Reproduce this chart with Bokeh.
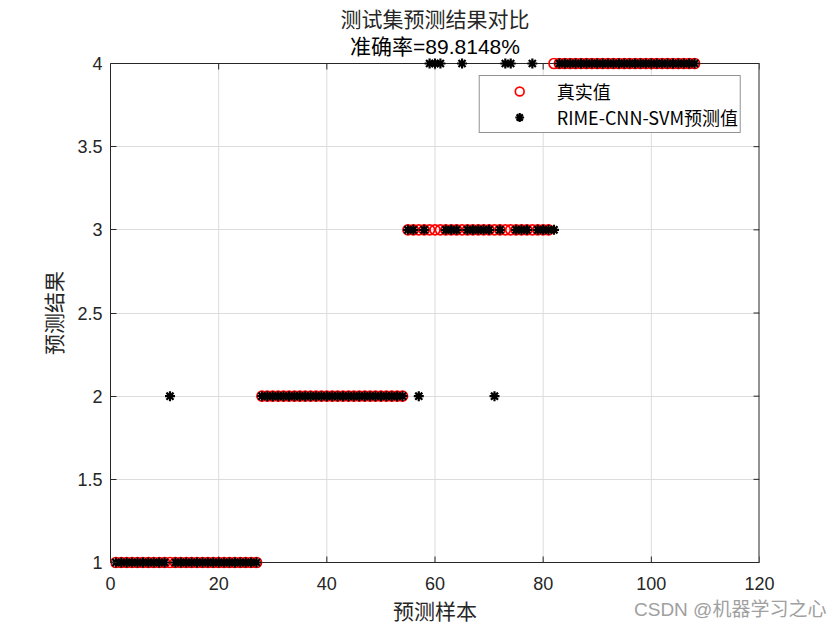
from bokeh.plotting import figure
from bokeh.layouts import column
from bokeh.models import (Range1d, Title, Legend, LegendItem, Div,
                          FixedTicker, ColumnDataSource)
from bokeh.embed import file_html
from bokeh.resources import INLINE

# ---------------- data ----------------
sample_idx = list(range(1, 109))
true_vals = [
    1, 1, 1, 1, 1, 1, 1, 1, 1, 1, 1, 1, 1, 1, 1, 1, 1, 1, 1, 1, 1, 1, 1, 1, 1, 1, 1,
    2, 2, 2, 2, 2, 2, 2, 2, 2, 2, 2, 2, 2, 2, 2, 2, 2, 2, 2, 2, 2, 2, 2, 2, 2, 2, 2,
    3, 3, 3, 3, 3, 3, 3, 3, 3, 3, 3, 3, 3, 3, 3, 3, 3, 3, 3, 3, 3, 3, 3, 3, 3, 3, 3,
    4, 4, 4, 4, 4, 4, 4, 4, 4, 4, 4, 4, 4, 4, 4, 4, 4, 4, 4, 4, 4, 4, 4, 4, 4, 4, 4,
]
pred_vals = [
    1, 1, 1, 1, 1, 1, 1, 1, 1, 1, 2, 1, 1, 1, 1, 1, 1, 1, 1, 1, 1, 1, 1, 1, 1, 1, 1,
    2, 2, 2, 2, 2, 2, 2, 2, 2, 2, 2, 2, 2, 2, 2, 2, 2, 2, 2, 2, 2, 2, 2, 2, 2, 2, 2,
    3, 3, 2, 3, 4, 4, 4, 3, 3, 3, 4, 3, 3, 3, 3, 3, 2, 3, 4, 4, 3, 3, 3, 4, 3, 3, 3,
    3, 4, 4, 4, 4, 4, 4, 4, 4, 4, 4, 4, 4, 4, 4, 4, 4, 4, 4, 4, 4, 4, 4, 4, 4, 4, 4,
]
x_min, x_max = 0, 120
y_min, y_max = 1, 4
x_ticks = [0, 20, 40, 60, 80, 100, 120]
y_ticks = [1, 1.5, 2, 2.5, 3, 3.5, 4]
title_line1 = "测试集预测结果对比"
title_line2 = "准确率=89.8148%"
x_label = "预测样本"
y_label = "预测结果"
legend_labels = ["真实值", "RIME-CNN-SVM预测值"]
watermark = "CSDN @机器学习之心"

NUM_FONT = "Liberation Sans, 'Noto Sans CJK SC'"
CJK_FONT = "'Noto Sans CJK SC'"
AX_COL = "#262626"

BOX_W = 649
BOX_H = 499
PAD = 6
pad_data = PAD * (y_max - y_min) / BOX_H

p = figure(output_backend="svg", toolbar_location=None,
           frame_width=BOX_W, frame_height=BOX_H + 2 * PAD,
           x_range=Range1d(x_min, x_max),
           y_range=Range1d(y_min - pad_data, y_max + pad_data),
           min_border_left=110, min_border_right=81,
           min_border_top=56, min_border_bottom=63)
p.background_fill_color = "white"
p.border_fill_color = "white"
p.outline_line_color = None

for ax in (p.xaxis[0], p.yaxis[0]):
    ax.minor_tick_line_color = None
    ax.axis_line_color = AX_COL
    ax.axis_line_width = 1
    ax.major_tick_line_color = AX_COL
    ax.major_label_text_color = AX_COL
    ax.major_label_text_font = NUM_FONT
    ax.major_label_text_font_size = "18px"
    ax.axis_label_text_font = CJK_FONT
    ax.axis_label_text_font_size = "21px"
    ax.axis_label_text_font_style = "normal"
    ax.axis_label_text_color = AX_COL

# x axis: labels only (box edge and ticks drawn at y=1 below)
p.xaxis.ticker = FixedTicker(ticks=x_ticks)
p.xaxis.axis_line_color = None
p.xaxis.major_tick_line_color = None
p.xaxis.major_tick_in = 0
p.xaxis.major_tick_out = 0
p.xaxis.major_label_standoff = 8
p.xaxis.axis_label = x_label
p.xaxis.axis_label_standoff = 2

p.yaxis.ticker = FixedTicker(ticks=y_ticks)
p.yaxis.bounds = (y_min, y_max)
p.yaxis.major_tick_in = 6
p.yaxis.major_tick_out = 0
p.yaxis.major_label_standoff = 8
p.yaxis.axis_label = y_label
p.yaxis.axis_label_standoff = 6

# grid
p.xgrid.visible = False
p.ygrid.ticker = FixedTicker(ticks=y_ticks)
p.ygrid.grid_line_color = "#dcdcdc"
p.ygrid.grid_line_width = 1
inner_x = [t for t in x_ticks if x_min < t < x_max]
p.segment(x0=inner_x, y0=[y_min] * len(inner_x), x1=inner_x, y1=[y_max] * len(inner_x),
          line_color="#dcdcdc", line_width=1, level="underlay")

# box edges (bottom, top, right) and inward tick marks
tick_len_y = 6 * (y_max - y_min) / BOX_H
tick_len_x = 6 * (x_max - x_min) / BOX_W
p.segment(x0=[x_min, x_min], y0=[y_min, y_max], x1=[x_max, x_max], y1=[y_min, y_max],
          line_color=AX_COL, line_width=1)
p.segment(x0=[x_max], y0=[y_min], x1=[x_max], y1=[y_max], line_color=AX_COL, line_width=2)
p.segment(x0=x_ticks, y0=[y_max] * len(x_ticks), x1=x_ticks,
          y1=[y_max - tick_len_y] * len(x_ticks), line_color=AX_COL, line_width=1)
p.segment(x0=x_ticks, y0=[y_min] * len(x_ticks), x1=x_ticks,
          y1=[y_min + tick_len_y] * len(x_ticks), line_color=AX_COL, line_width=1)
p.segment(x0=[x_max] * len(y_ticks), y0=y_ticks, x1=[x_max - tick_len_x] * len(y_ticks),
          y1=y_ticks, line_color=AX_COL, line_width=1)

p.add_layout(Title(text=title_line2, align="center", text_font=NUM_FONT,
                   text_font_size="21px", text_font_style="normal",
                   text_color="black", standoff=0), "above")
p.add_layout(Title(text=title_line1, align="center", text_font=CJK_FONT,
                   text_font_size="21px", text_font_style="normal",
                   text_color=AX_COL, standoff=0), "above")

src = ColumnDataSource(dict(x=sample_idx, t=true_vals, pr=pred_vals))
r_true = p.scatter("x", "t", source=src, marker="circle", size=10,
                   fill_color=None, line_color="#ff0000", line_width=1.7)
r_pred = p.scatter("x", "pr", source=src, marker="asterisk", size=10,
                   line_color="black", line_width=2.2)

legend = Legend(items=[LegendItem(label=legend_labels[0], renderers=[r_true]),
                       LegendItem(label=legend_labels[1], renderers=[r_pred])],
                location="top_right")
legend.label_text_font = CJK_FONT
legend.label_text_font_size = "18px"
legend.label_text_color = "black"
legend.border_line_color = AX_COL
legend.border_line_width = 1
legend.background_fill_color = "white"
legend.background_fill_alpha = 1
legend.padding = 2
legend.margin = 18
legend.spacing = 0
legend.glyph_width = 75
legend.glyph_height = 22
legend.label_height = 22
legend.label_standoff = 0
p.add_layout(legend, "center")

wm = Div(text=watermark, width=210, height=24, margin=(-33, 0, 0, 634),
         styles={"color": "#a0a0a0", "font-family": NUM_FONT, "font-size": "19px",
                 "white-space": "nowrap", "line-height": "24px"})

layout = column(p, wm, spacing=0)
open("out.html", "w").write(file_html(layout, INLINE))
